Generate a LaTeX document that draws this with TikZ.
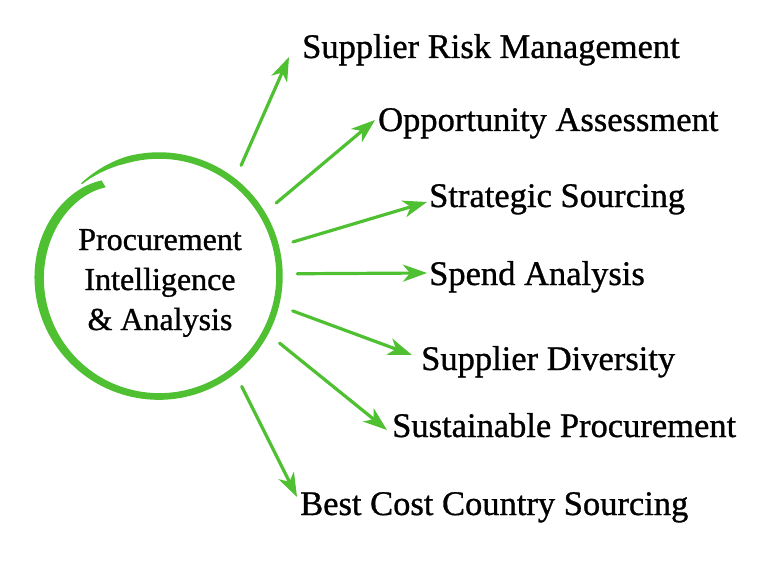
\documentclass[tikz,border=0pt]{standalone}
\usepackage{fontspec}
\setmainfont{Liberation Serif}[RawFeature={embolden=0.9}]
\usetikzlibrary{arrows.meta,calc,positioning}
\definecolor{leafgreen}{RGB}{78,192,50}
\tikzset{%
        arrow/.style = { leafgreen, line width=3.2pt, -{Stealth[length=24pt,width=17pt,inset=7pt]}, shorten <=14pt },
        topic/.style = { anchor=base west, inner sep=0pt, font=\fontsize{34.5}{40}\selectfont },
          hub/.style = { circle, minimum size=248pt, inner sep=0pt },
      hubtext/.style = { align=center, inner sep=0pt, font=\fontsize{32}{40}\selectfont }
}
\begin{document}
\begin{tikzpicture}[x=1pt,y=-1pt,line cap=round,line join=round,
  declare function={rr(\t)=120.5-13*exp(-(\t-121)/20);
                    ww(\t)=(6.5+3*exp(-((\t-170)/60)^2))*min(1,0.2+(490-\t)/30);}]
\useasboundingbox (0,0) rectangle (768,567);
% hub
\node[hub] (hub) at (159,276) {};
\node[hubtext] (hubtext) at (160,283) {Procurement\\Intelligence\\\& Analysis};
\fill[leafgreen]
  plot[domain=121:490,samples=150] ({159+(rr(\x)+ww(\x)/2)*cos(\x)},{276-(rr(\x)+ww(\x)/2)*sin(\x)})
  -- plot[domain=490:121,samples=150] ({159+(rr(\x)-ww(\x)/2)*cos(\x)},{276-(rr(\x)-ww(\x)/2)*sin(\x)})
  -- cycle;
% topics
\node[topic] (risk) at (302,58) {Supplier Risk Management};
\node[topic] (opp) at (378,131) {Opportunity Assessment};
\node[topic] (strat) at (429,207) {Strategic Sourcing};
\node[topic] (spend) at (429,285) {Spend Analysis};
\node[topic] (div) at (421,370) {Supplier Diversity};
\node[topic] (sust) at (392,437) {Sustainable Procurement};
\node[topic] (best) at (300,515) {Best Cost Country Sourcing};
% arrow tips
\coordinate (trisk) at (289,57);
\coordinate (topp) at (375,120);
\coordinate (tstrat) at (427,202);
\coordinate (tspend) at (427,273);
\coordinate (tdiv) at (412,355);
\coordinate (tsust) at (387,430);
\coordinate (tbest) at (297,497);
\draw[arrow] (hub.52.5) -- (trisk);
\draw[arrow] (hub.31) -- (topp);
\draw[arrow] (hub.14.4) -- (tstrat);
\draw[arrow] (hub.1.2) -- (tspend);
\draw[arrow] (hub.-14.8) -- (tdiv);
\draw[arrow] (hub.-28.8) -- (tsust);
\draw[arrow] (hub.-52) -- (tbest);
\end{tikzpicture}
\end{document}
